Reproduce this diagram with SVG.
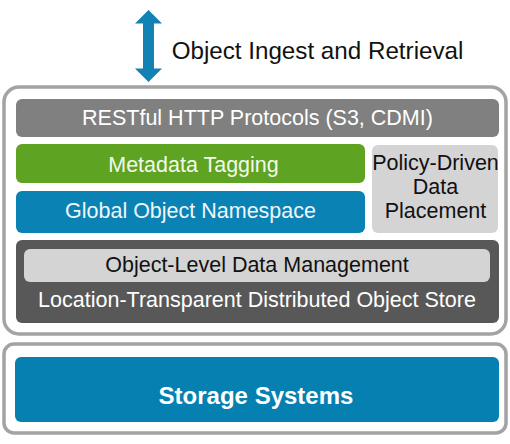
<svg xmlns="http://www.w3.org/2000/svg" width="510" height="444" viewBox="0 0 510 444">
<style>
text{font-family:"Liberation Sans",Arial,sans-serif;text-anchor:middle}
.frame{fill:#fff;stroke:#a3a3a3;stroke-width:3.5}
.t21{font-size:21.5px}
.w{fill:#ffffff}
.k{fill:#111111}
.light{fill:#d4d4d4}
</style>
<rect width="510" height="444" fill="#fff"/>
<g id="connectors">
<polygon points="148.5,10 162,23.5 154,23.5 154,68.5 162,68.5 148.5,82 135,68.5 143,68.5 143,23.5 135,23.5" fill="#1282b4"/>
<text x="317.5" y="58.5" style="font-size:24.2px;text-anchor:middle" class="k">Object Ingest and Retrieval</text>
</g>
<g id="platform">
<rect class="frame" x="4" y="87" width="502" height="247" rx="15"/>
</g>
<g id="restful">
<rect x="16" y="99" width="483" height="38" rx="6" fill="#808080"/>
<text x="257.5" y="125" class="t21 w">RESTful HTTP Protocols (S3, CDMI)</text>
</g>
<g id="metadata">
<rect x="16" y="144" width="349" height="39" rx="6" fill="#5fa323"/>
<text x="193.5" y="171.5" class="t21" fill="#f2f9ec">Metadata Tagging</text>
</g>
<g id="namespace">
<rect x="16" y="191" width="349" height="42" rx="6" fill="#0b82b4"/>
<text x="190.5" y="218" class="t21" fill="#eef7fb">Global Object Namespace</text>
</g>
<g id="policy">
<rect x="372" y="145" width="126" height="88" rx="6" class="light"/>
<text x="435.5" y="170" class="t21 k">Policy-Driven</text>
<text x="435.5" y="194" class="t21 k">Data</text>
<text x="435.5" y="218" class="t21 k">Placement</text>
</g>
<g id="object-store">
<rect x="16" y="240" width="483" height="83" rx="6" fill="#585858"/>
<rect x="24" y="249" width="466" height="33" rx="6" class="light"/>
<text x="257" y="271.5" class="t21 k">Object-Level Data Management</text>
<text x="257" y="306.5" class="t21 w">Location-Transparent Distributed Object Store</text>
</g>
<g id="storage">
<rect class="frame" x="4" y="344" width="502" height="89" rx="10"/>
<rect x="15" y="357" width="484" height="65" rx="6" fill="#0580b1"/>
<text x="256" y="404" style="font-size:24px;font-weight:bold" class="w">Storage Systems</text>
</g>
</svg>
